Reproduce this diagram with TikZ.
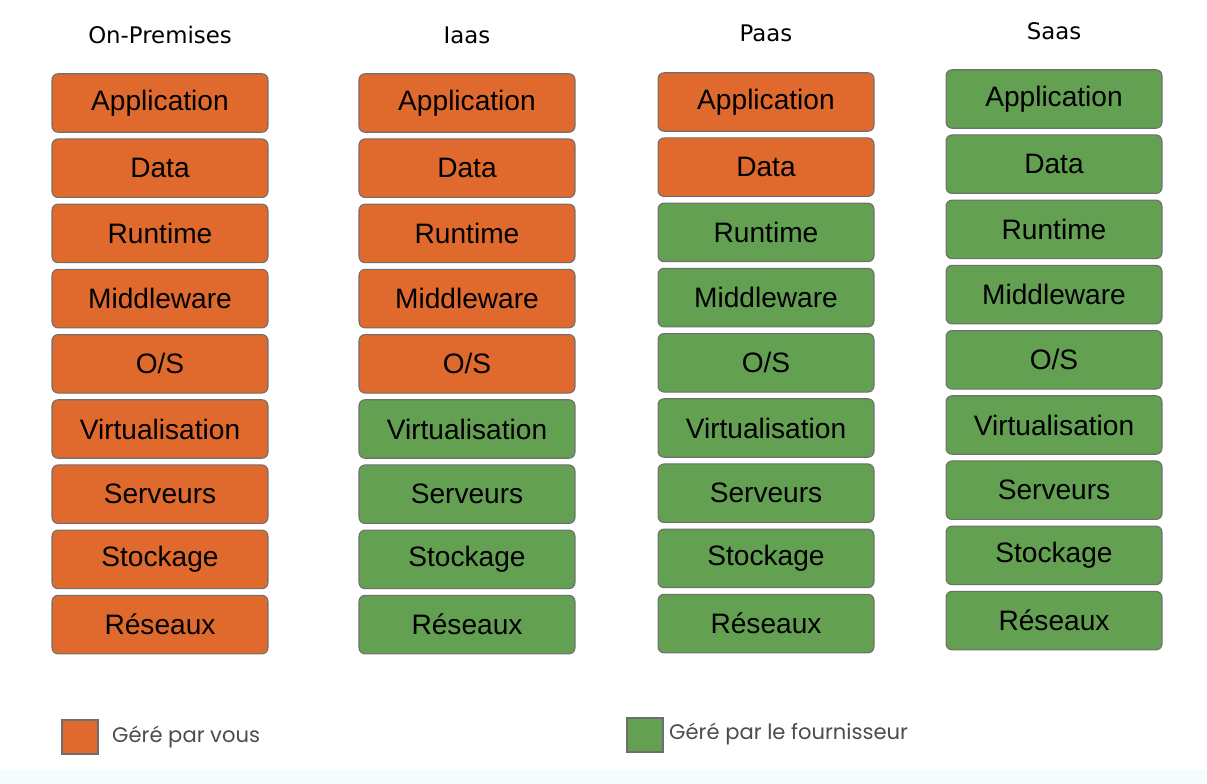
\documentclass[tikz,border=0pt]{standalone}
\usepackage{fontspec}
\setmainfont{Liberation Sans}
\newfontfamily\legendfont{Poppins}
\newfontfamily\headfont{DejaVu Sans}
\definecolor{selforange}{RGB}{224,106,46}
\definecolor{providergreen}{RGB}{99,160,82}
\definecolor{boxline}{RGB}{110,110,110}
\tikzset{
  layer/.style={
    draw=boxline,
    line width=0.6pt,
    rounded corners=0.12cm,
    minimum width=4.32cm,
    minimum height=1.17cm,
    inner sep=0pt,
    font=\fontsize{16}{18}\selectfont
  },
  layer-self/.style={layer, fill=selforange},
  layer-prov/.style={layer, fill=providergreen},
  col-head/.style={font=\headfont\fontsize{13}{15}\selectfont},
  legend-box/.style={draw=boxline, line width=0.6pt, minimum width=0.72cm, minimum height=0.68cm, inner sep=0pt},
  legend-text/.style={font=\legendfont\fontsize{12}{14}\selectfont, text=black!70, anchor=west}
}
\begin{document}
\begin{tikzpicture}[x=0.02cm, y=-0.02cm]
  \useasboundingbox (0,0) rectangle (1207,784);
  \fill[cyan!4] (0,770) rectangle (1207,784);

  % --- Layer names ---
  \def\names{{"Application","Data","Runtime","Middleware","O/S","Virtualisation","Serveurs","Stockage","R\'eseaux"}}

  % column: index / centre x / top y / header y / header / number of own layers
  \foreach \c/\cx/\ty/\hy/\head/\own in {1/160/103/35/On-Premises/9, 2/467/103/35/Iaas/5, 3/766/102/33/Paas/2, 4/1054/99/31/Saas/0} {
    \node[col-head] (head\c) at (\cx,\hy) {\head};
    \foreach \r in {0,...,8} {
      \pgfmathsetmacro{\cy}{\ty + \r*65.2}
      \pgfmathparse{\names[\r]}\let\lname\pgfmathresult
      \ifnum\r<\own
        \node[layer-self] (l\c-\r) at (\cx,\cy) {\lname};
      \else
        \node[layer-prov] (l\c-\r) at (\cx,\cy) {\lname};
      \fi
    }
  }

  % --- Legend ---
  \node[legend-box, fill=selforange] (keyself) at (80,737) {};
  \node[legend-text] (keyselftext) at (106,737) {Géré par vous};
  \node[legend-box, fill=providergreen] (keyprov) at (645,735) {};
  \node[legend-text] (keyprovtext) at (663,734) {Géré par le fournisseur};
\end{tikzpicture}
\end{document}
